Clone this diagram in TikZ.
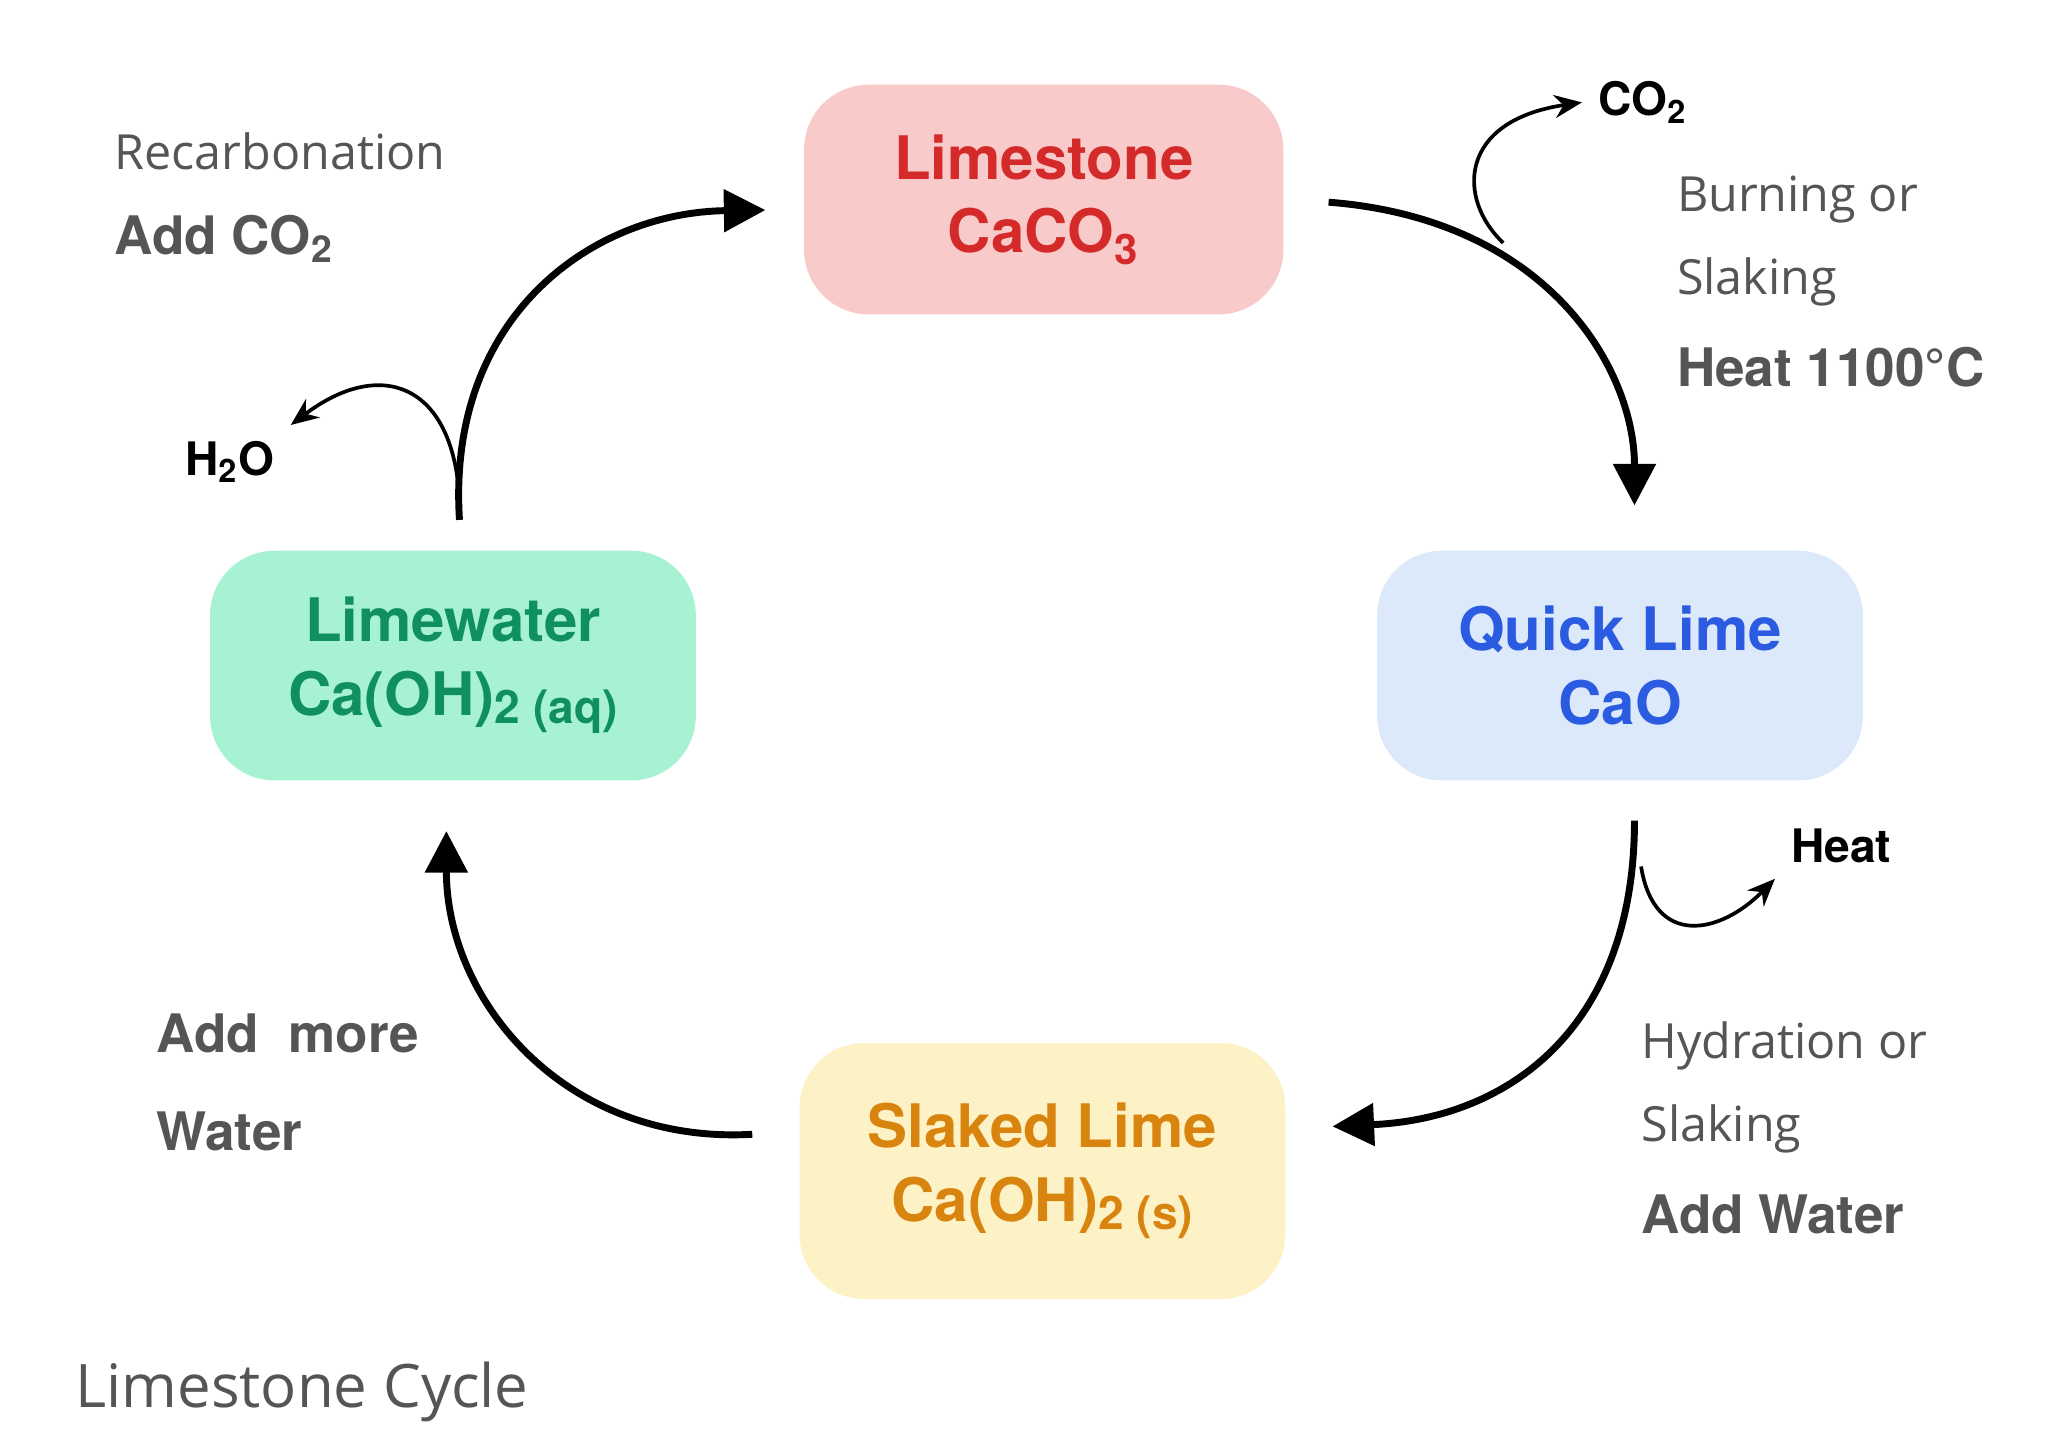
\documentclass[tikz,border=0pt]{standalone}
\usepackage{fontspec}
\setmainfont{TeX Gyre Heros}
\newfontfamily\lightfont{Open Sans}
\usetikzlibrary{arrows.meta}
\definecolor{stoneFill}{HTML}{F9CACA}
\definecolor{stoneText}{HTML}{D42A2A}
\definecolor{quickFill}{HTML}{DCE9FB}
\definecolor{quickText}{HTML}{2B5BE0}
\definecolor{slakedFill}{HTML}{FDF1C6}
\definecolor{slakedText}{HTML}{D9840E}
\definecolor{waterFill}{HTML}{A8F2D4}
\definecolor{waterText}{HTML}{109060}
\definecolor{labelGray}{HTML}{555555}
\newcommand{\lowsub}[1]{\raisebox{-0.25ex}{\fontsize{10}{10}\selectfont #1}}
\tikzset{
  stage/.style={rounded corners=14pt, minimum width=3.65cm, minimum height=1.75cm,
    align=center, font=\fontsize{13}{16}\selectfont\bfseries},
  cycle/.style={line width=1.5pt, -{Triangle[length=9pt,width=9pt]}},
  side/.style={line width=0.8pt, -{Stealth[length=6pt,width=5pt]}},
  note/.style={anchor=west, text=labelGray, font=\lightfont\fontsize{10.5}{12}\selectfont},
  bnote/.style={anchor=west, text=labelGray, font=\fontsize{11.5}{13}\selectfont\bfseries},
  prod/.style={font=\fontsize{10}{12}\selectfont\bfseries}
}
\begin{document}
\begin{tikzpicture}
    \useasboundingbox (0,0) rectangle (15.6,11.02);

    %Stufen
    \node[stage, fill=stoneFill, text=stoneText] (lime) at (7.95,9.5) {Limestone\\CaCO\textsubscript{3}};
    \node[stage, fill=quickFill, text=quickText, minimum width=3.7cm] (quick) at (12.34,5.95) {Quick Lime\\CaO};
    \node[stage, fill=slakedFill, text=slakedText, minimum height=1.95cm, minimum width=3.7cm] (slaked) at (7.94,2.1) {Slaked Lime\\Ca(OH)\lowsub{2 (s)}};
    \node[stage, fill=waterFill, text=waterText, minimum width=3.7cm] (water) at (3.45,5.95) {Limewater\\Ca(OH)\lowsub{2 (aq)}};

    %Punkte der Pfeile
    \coordinate (a1) at (10.12,9.48);  \coordinate (a2) at (12.45,7.17);
    \coordinate (b1) at (12.45,4.77);  \coordinate (b2) at (10.15,2.44);
    \coordinate (c1) at (5.73,2.38);   \coordinate (c2) at (3.4,4.69);
    \coordinate (d1) at (3.5,7.06);    \coordinate (d2) at (5.83,9.42);
    \coordinate (e1) at (11.45,9.17);  \coordinate (f1) at (12.5,4.42);
    \coordinate (g1) at (3.5,7.22);

    %Produkte
    \node[prod, anchor=west] (co2) at (12.05,10.24) {CO\textsubscript{2}};
    \node[prod, anchor=west] (heat) at (13.52,4.58) {Heat};
    \node[prod] (h2o) at (1.75,7.5) {H\textsubscript{2}O};

    %Kreislauf
    \draw[cycle] (a1) .. controls (11.8,9.35) and (12.45,8.2) .. (a2);
    \draw[cycle] (b1) .. controls (12.45,3.2) and (11.5,2.5) .. (b2);
    \draw[cycle] (c1) .. controls (4.3,2.3) and (3.4,3.4) .. (c2);
    \draw[cycle] (d1) .. controls (3.4,8.6) and (4.5,9.4) .. (d2);

    %Abzweige
    \draw[side] (e1) .. controls (11.1,9.5) and (11.1,10.1) .. (co2.west);
    \draw[side] (f1) .. controls (12.6,3.8) and (13.1,3.9) .. (heat.south west);
    \draw[side] (g1) .. controls (3.45,8.1) and (2.9,8.3) .. (h2o.north east);

    %Beschriftungen
    \node[note] (recarb) at (0.75,9.87) {Recarbonation};
    \node[bnote] (addco) at (0.75,9.2) {Add CO\textsubscript{2}};
    \node[note] (burn) at (12.65,9.5) {Burning or};
    \node[note] (slak1) at (12.65,8.87) {Slaking};
    \node[bnote] (heatdeg) at (12.65,8.22) {Heat 1100°C};
    \node[note] (hydr) at (12.38,3.05) {Hydration or};
    \node[note] (slak2) at (12.38,2.42) {Slaking};
    \node[bnote] (addw) at (12.38,1.77) {Add Water};
    \node[bnote] (more) at (1.07,3.15) {Add\ \ more};
    \node[bnote] (wat) at (1.07,2.4) {Water};
    \node[note, font=\lightfont\fontsize{13}{15}\selectfont] (title) at (0.45,0.42) {Limestone Cycle};
\end{tikzpicture}
\end{document}
